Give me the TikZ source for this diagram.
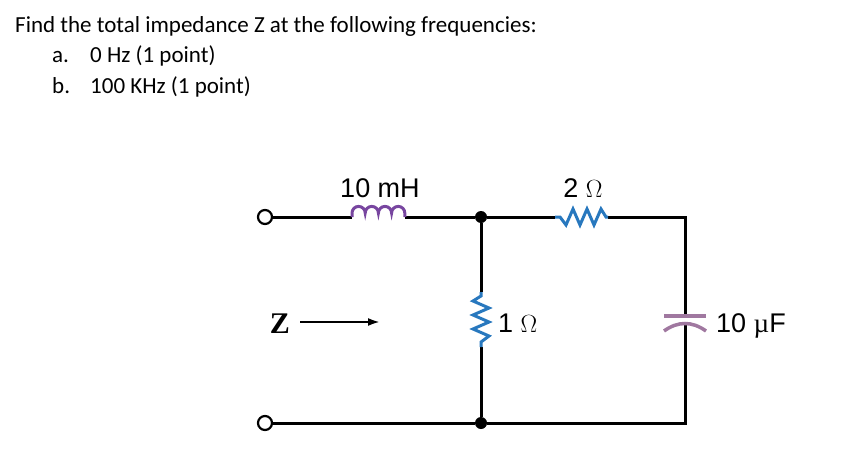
\documentclass[tikz,border=0pt]{standalone}
\usepackage{fontspec}
\usetikzlibrary{arrows.meta}
\setmainfont{Carlito}
\newfontfamily\arl{Liberation Sans}
\newfontfamily\tms{Liberation Serif}
\begin{document}
\begin{tikzpicture}[x=1pt,y=-1pt,
  wire/.style={line width=3pt,black},
  res/.style={line width=3pt,color={rgb,255:red,40;green,120;blue,190},line join=miter},
  ind/.style={line width=3pt,color={rgb,255:red,120;green,70;blue,160}},
  capplate/.style={line width=3.5pt,color={rgb,255:red,160;green,120;blue,160}},
  term/.style={circle,draw,line width=2.2pt,minimum size=14pt,inner sep=0pt,fill=white},
  dot/.style={circle,fill,inner sep=0pt,minimum size=12pt},
  lbl/.style={font=\arl\fontsize{27}{30}\selectfont,inner sep=0pt},
  txt/.style={anchor=base west,inner sep=0pt,font=\fontsize{23}{27}\selectfont}]
\useasboundingbox (0,0) rectangle (841,455);
\node[txt] (t1) at (15,32) {Find the total impedance Z at the following frequencies:};
\node[txt] (t2) at (52,62) {a.};
\node[txt] (t3) at (90,62) {0 Hz (1 point)};
\node[txt] (t4) at (52,93) {b.};
\node[txt] (t5) at (90,93) {100 KHz (1 point)};
% coordinates
\coordinate (ia) at (352,217);
\coordinate (ib) at (405,217);
\coordinate (ra) at (555,217);
\coordinate (rb) at (608,217);
\coordinate (tr) at (685,217);
\coordinate (br) at (685,423);
\coordinate (ct) at (685,316);
\coordinate (cb) at (685,324);
\coordinate (va) at (481,292);
\coordinate (vb) at (481,347);
% wires
\node[dot] (j1) at (481,217) {};
\node[dot] (j2) at (481,423) {};
\node[term] (A) at (265,217) {};
\node[term] (B) at (265,423) {};
\draw[wire] (A) -- (ia);
\draw[wire] (ib) -- (j1) -- (ra);
\draw[wire] (rb) -- (tr) -- (ct);
\draw[wire] (cb) -- (br) -- (j2) -- (B);
\draw[wire] (j1) -- (va);
\draw[wire] (vb) -- (j2);
% inductor
\draw[ind] (ia) -- (352,213) arc[start angle=180,end angle=360,radius=6.6] arc[start angle=180,end angle=360,radius=6.6] arc[start angle=180,end angle=360,radius=6.6] arc[start angle=180,end angle=360,radius=6.6] -- (ib);
% 2 ohm resistor
\draw[res] (ra) -- (560,217) -- (566,225) -- (573,209) -- (580,225) -- (587,209) -- (594,225) -- (601,209) -- (606,217) -- (rb);
% 1 ohm resistor
\draw[res] (va) -- (481,296) -- (473,301) -- (489,308) -- (473,315) -- (489,322) -- (473,329) -- (489,336) -- (481,342) -- (vb);
% capacitor
\draw[capplate] (664,316) -- (706,316);
\draw[capplate] (664,331) .. controls (678,321) and (692,321) .. (706,331);
% labels
\node[lbl,anchor=base] (l1) at (380,197) {10 mH};
\node[lbl,anchor=base] (l2) at (583,197) {2 {\tms$\Omega$}};
\node[lbl,anchor=base west] (l3) at (498,332) {1 {\tms$\Omega$}};
\node[lbl,anchor=base west] (l4) at (716,332) {10 {\tms µ}F};
\node[inner sep=0pt,anchor=base,font=\tms\bfseries\fontsize{30}{34}\selectfont] (Z) at (280,333) {Z};
\coordinate (ae) at (380,322);
\draw[line width=2.2pt,-{Latex[length=12pt,width=8pt]}] (300,322) -- (ae);
\end{tikzpicture}
\end{document}
